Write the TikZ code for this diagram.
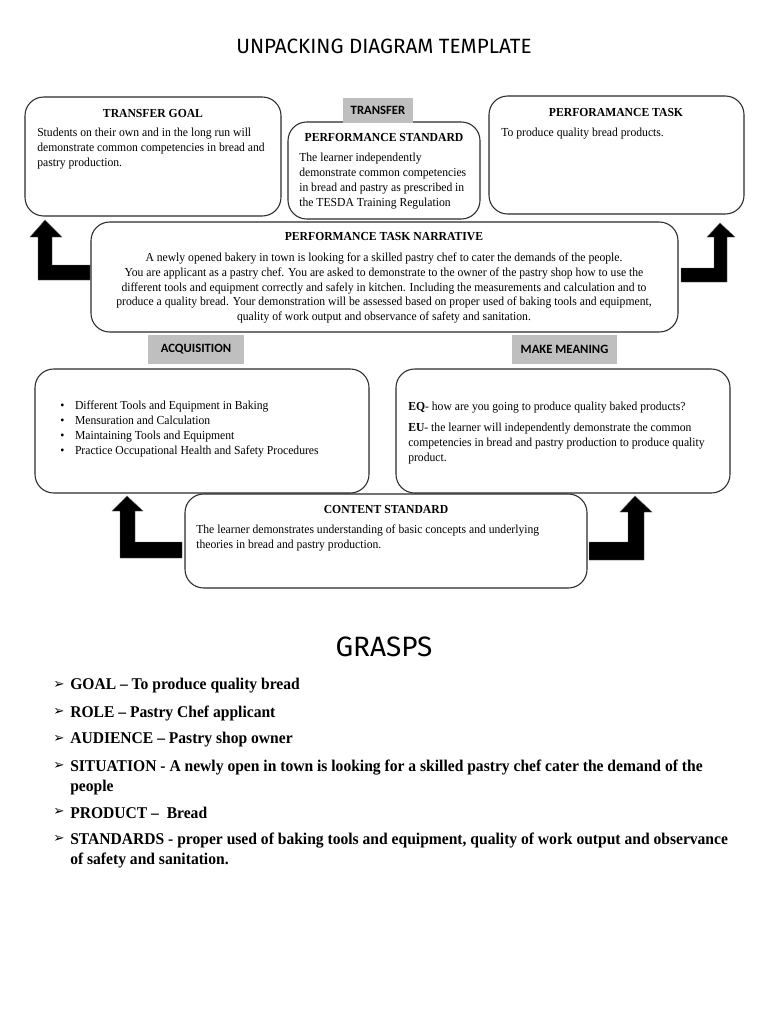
\documentclass[tikz,border=0pt]{standalone}
\usepackage{fontspec}
\usepackage{tikz}
\usetikzlibrary{positioning}
\setmainfont[FakeStretch=0.95]{Liberation Serif}
\newfontfamily\tagfont{Carlito}
\newfontfamily\titlefont{Fira Sans}
\newfontfamily\symfont{DejaVu Sans}
\newcommand\pxu{0.75pt}
\definecolor{BoxLine}{HTML}{2B2B2B}
\definecolor{TagGray}{HTML}{BFBFBF}
\tikzset{
  card/.style={draw=BoxLine, rounded corners=14pt, line width=0.8pt, fill=white, inner sep=0pt},
  graytag/.style={fill=TagGray, font=\tagfont\fontsize{9.5}{10}\selectfont\bfseries, inner sep=0pt},
  headtxt/.style={font=\fontsize{9.2}{11}\selectfont\bfseries, inner sep=0pt},
  bodytxt/.style={font=\fontsize{9.2}{11.1}\selectfont, align=left, inner sep=0pt},
  midtxt/.style={font=\fontsize{9.2}{11}\selectfont, align=center, inner sep=0pt},
  bigarrow/.style={fill=black, draw=black!60, line width=0.3pt},
  graspitem/.style={font=\fontsize{12.3}{15}\selectfont\bfseries, align=left, inner sep=0pt},
  graspbul/.style={font=\symfont\fontsize{10}{11}\selectfont, inner sep=0pt},
}
\begin{document}
\begin{tikzpicture}[x=0.75pt,y=-0.75pt]
\path[use as bounding box] (0,0) rectangle (768,1024);
\fill[white] (0,0) rectangle (768,1024);
\node[font=\titlefont\fontsize{15.5}{17}\selectfont] (title) at (384,46) {UNPACKING DIAGRAM TEMPLATE};

% transfer row
\node[card, minimum width=256*\pxu, minimum height=119*\pxu] (tgoal) at (153,156.5) {};
\node[card, minimum width=192*\pxu, minimum height=97*\pxu] (pstd) at (384,170.5) {};
\node[card, minimum width=255*\pxu, minimum height=118*\pxu] (ptask) at (616.5,155) {};
\node[graytag, minimum width=70*\pxu, minimum height=25*\pxu] (transfer) at (378,110.5) {TRANSFER};

\node[headtxt] (tgoalhd) at (153,113) {TRANSFER GOAL};
\node[bodytxt, anchor=north west] (tgoaltx) at (37,128) {Students on their own and in the long run will\\demonstrate common competencies in bread and\\pastry production.};
\node[headtxt] (pstdhd) at (384,137) {PERFORMANCE STANDARD};
\node[bodytxt, anchor=north west] (pstdtx) at (299,153) {The learner independently\\demonstrate common competencies\\in bread and pastry as prescribed in\\the TESDA Training Regulation};
\node[headtxt] (ptaskhd) at (616,112) {PERFORAMANCE TASK};
\node[bodytxt, anchor=north west] (ptasktx) at (501,128) {To produce quality bread products.};

% narrative
\node[card, minimum width=587*\pxu, minimum height=110*\pxu] (narr) at (384.5,277) {};
\node[headtxt] (narrhd) at (384,237) {PERFORMANCE TASK NARRATIVE};
\node[midtxt, anchor=north] (narrtx) at (384,253) {A newly opened bakery in town is looking for a skilled pastry chef to cater the demands of the people.\\You are applicant as a pastry chef. You are asked to demonstrate to the owner of the pastry shop how to use the\\different tools and equipment correctly and safely in kitchen. Including the measurements and calculation and to\\produce a quality bread. Your demonstration will be assessed based on proper used of baking tools and equipment,\\quality of work output and observance of safety and sanitation.};

\fill[bigarrow] (45,220) -- (62,237) -- (52,237) -- (52,265) -- (90,265) -- (90,280) -- (38,280) -- (38,237) -- (30,237) -- cycle;
\fill[bigarrow] (720,223) -- (735,237) -- (727,237) -- (727,282) -- (681,282) -- (681,268) -- (714,268) -- (714,237) -- (707,237) -- cycle;

% acquisition and meaning
\node[graytag, minimum width=96*\pxu, minimum height=29*\pxu] (acq) at (196,349.5) {ACQUISITION};
\node[graytag, minimum width=105*\pxu, minimum height=29*\pxu] (meaning) at (564.5,349.5) {MAKE MEANING};
\node[card, minimum width=334*\pxu, minimum height=124*\pxu] (acqbox) at (202,431) {};
\node[card, minimum width=334*\pxu, minimum height=124*\pxu] (eqbox) at (563,431) {};
\node[bodytxt, anchor=north west] (acqtx) at (60,401) {\textbullet\hspace{8pt}Different Tools and Equipment in Baking\\\textbullet\hspace{8pt}Mensuration and Calculation\\\textbullet\hspace{8pt}Maintaining Tools and Equipment\\\textbullet\hspace{8pt}Practice Occupational Health and Safety Procedures};
\node[bodytxt, anchor=north west] (eqtx) at (408,402) {\textbf{EQ}- how are you going to produce quality baked products?};
\node[bodytxt, anchor=north west] (eutx) at (408,423) {\textbf{EU}- the learner will independently demonstrate the common\\competencies in bread and pastry production to produce quality\\product.};

% content standard
\node[card, minimum width=402*\pxu, minimum height=94*\pxu] (cstd) at (386,541) {};
\node[headtxt] (cstdhd) at (386,509) {CONTENT STANDARD};
\node[bodytxt, anchor=north west] (cstdtx) at (196,525) {The learner demonstrates understanding of basic concepts and underlying\\theories in bread and pastry production.};

\fill[bigarrow] (127,496) -- (143,511) -- (135,511) -- (135,542) -- (182,542) -- (182,558) -- (120,558) -- (120,511) -- (112,511) -- cycle;
\fill[bigarrow] (635,496) -- (652,512) -- (644,512) -- (644,560) -- (589,560) -- (589,542) -- (628,542) -- (628,512) -- (620,512) -- cycle;

% grasps
\node[font=\titlefont\fontsize{21}{24}\selectfont] (grasps) at (384,647) {GRASPS};
\node[graspbul] (b1) at (59,685) {➢};
\node[graspitem, anchor=west] (g1) at (70,686) {GOAL -- To produce quality bread};
\node[graspbul] (b2) at (59,712) {➢};
\node[graspitem, anchor=west] (g2) at (70,713) {ROLE -- Pastry Chef applicant};
\node[graspbul] (b3) at (59,739) {➢};
\node[graspitem, anchor=west] (g3) at (70,740) {AUDIENCE -- Pastry shop owner};
\node[graspbul] (b4) at (59,766) {➢};
\node[graspitem, anchor=north west] (g4) at (70,760) {SITUATION - A newly open in town is looking for a skilled pastry chef cater the demand of the\\people};
\node[graspbul] (b5) at (59,812) {➢};
\node[graspitem, anchor=west] (g5) at (70,813) {PRODUCT --~ Bread};
\node[graspbul] (b6) at (59,839) {➢};
\node[graspitem, anchor=north west] (g6) at (70,833) {STANDARDS - proper used of baking tools and equipment, quality of work output and observance\\of safety and sanitation.};
\end{tikzpicture}
\end{document}
